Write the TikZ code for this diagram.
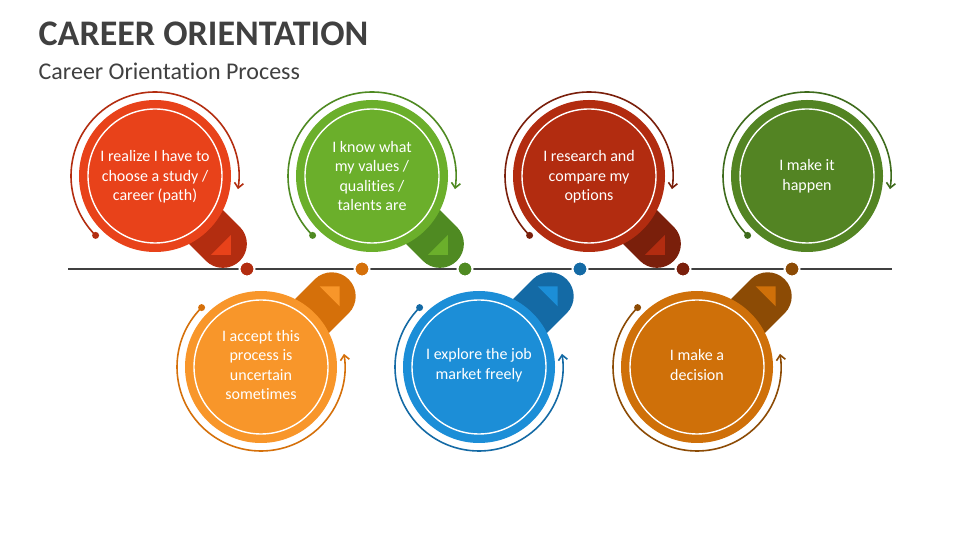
\documentclass[tikz,border=0pt]{standalone}
\usepackage{fontspec}
\setmainfont{Carlito}[Ligatures=NoCommon]
\usetikzlibrary{arrows.meta}
\definecolor{ink}{HTML}{404040}
\definecolor{cRed}{HTML}{E8421A}
\definecolor{dRed}{HTML}{B32D10}
\definecolor{cLime}{HTML}{6BAF2B}
\definecolor{dLime}{HTML}{4F8A22}
\definecolor{cRust}{HTML}{B22C10}
\definecolor{dRust}{HTML}{7A1F0B}
\definecolor{cLeaf}{HTML}{538423}
\definecolor{dLeaf}{HTML}{3E6B1C}
\definecolor{cAmber}{HTML}{F8962A}
\definecolor{dAmber}{HTML}{D5700A}
\definecolor{cSky}{HTML}{1C8ED7}
\definecolor{dSky}{HTML}{146AA5}
\definecolor{cOchre}{HTML}{CF7009}
\definecolor{dOchre}{HTML}{8C4B05}
\begin{document}
\begin{tikzpicture}[x=1pt,y=1pt]
  \useasboundingbox (0,0) rectangle (960,540);
  \tikzset{steptext/.style={white,font=\fontsize{16}{19.5}\selectfont,align=center,inner sep=0}}
  \node[ink,font=\fontsize{36}{40}\selectfont\bfseries,anchor=base west,inner sep=0] (title) at (38.5,494) {CAREER ORIENTATION};
  \node[ink,font=\fontsize{24}{28}\selectfont,anchor=base west,inner sep=0] (subtitle) at (38.5,460) {Career Orientation Process};
  \draw[ink,line width=2.2pt] (68,271) -- (892,271);
  % handles: upper ones point down to the line, lower ones up to it
  \foreach \x/\c/\d in {155/cRed/dRed, 372/cLime/dLime, 589/cRust/dRust}{
    \draw[\d,line width=48pt,line cap=round] (\x,364) -- ++(-45:96) coordinate (h);
    \fill[\c] (h) ++(8,-11) -- ++(-20,0) -- ++(20,20) -- cycle;}
  \foreach \x/\c/\d in {261/cAmber/dAmber, 479/cSky/dSky, 697/cOchre/dOchre}{
    \draw[\d,line width=48pt,line cap=round] (\x,173) -- ++(45:100) coordinate (h);
    \fill[\c] (h) ++(8,10) -- ++(-20,0) -- ++(20,-20) -- cycle;}
  % lens with inner ring and turning arrow
  \foreach \x/\c/\d in {155/cRed/dRed, 372/cLime/dLime, 589/cRust/dRust, 807/cLeaf/dLeaf}{
    \fill[\c] (\x,364) circle (76);
    \draw[white,line width=1.4pt] (\x,364) circle (67);
    \draw[\d,line width=1.6pt,-{Straight Barb[length=5pt,width=9pt]}] (\x,364) ++(225:84) arc[start angle=225,end angle=-9,radius=84];
    \fill[\d] (\x,364) ++(225:84) circle (3.5);}
  \foreach \x/\c/\d in {261/cAmber/dAmber, 479/cSky/dSky, 697/cOchre/dOchre}{
    \fill[\c] (\x,173) circle (76);
    \draw[white,line width=1.4pt] (\x,173) circle (67);
    \draw[\d,line width=1.6pt,-{Straight Barb[length=5pt,width=9pt]}] (\x,173) ++(135:84) arc[start angle=135,end angle=369,radius=84];
    \fill[\d] (\x,173) ++(135:84) circle (3.5);}
  \foreach \x/\d in {247/dRed, 362/dAmber, 465/dLime, 580/dSky, 683/dRust, 792/dOchre}
    \filldraw[fill=\d,draw=white,line width=2pt] (\x,271) circle (7.5);
  \node[steptext] (realize) at (155,363) {I realize I have to\\choose a study /\\career (path)};
  \node[steptext] (values) at (372,364) {I know what\\my values /\\qualities /\\talents are};
  \node[steptext] (research) at (589,363) {I research and\\compare my\\options};
  \node[steptext] (happen) at (807,364) {I make it\\happen};
  \node[steptext] (accept) at (261,175) {I accept this\\process is\\uncertain\\sometimes};
  \node[steptext] (explore) at (479,175) {I explore the job\\market freely};
  \node[steptext] (decision) at (697,175) {I make a\\decision};
\end{tikzpicture}
\end{document}
